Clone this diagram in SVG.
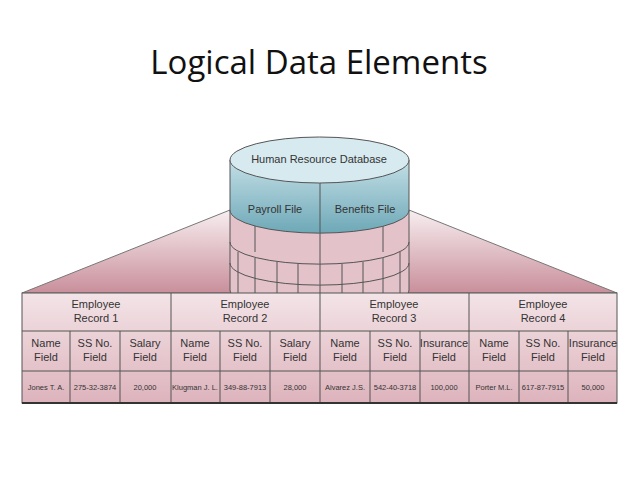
<svg xmlns="http://www.w3.org/2000/svg" width="638" height="478" viewBox="0 0 638 478">
<defs>
<linearGradient id="pk" x1="0" y1="0" x2="0" y2="1"><stop offset="0" stop-color="#f7eef0"/><stop offset="1" stop-color="#c98f9b"/></linearGradient>
<linearGradient id="cell" x1="0" y1="0" x2="0" y2="1"><stop offset="0" stop-color="#f3e4e7"/><stop offset="1" stop-color="#ddb3bc"/></linearGradient>
<linearGradient id="bl" x1="0" y1="0" x2="0" y2="1"><stop offset="0" stop-color="#c3dfe6"/><stop offset="1" stop-color="#6ea8b7"/></linearGradient>
</defs>
<style>
.t{font-family:"Liberation Sans",Arial,sans-serif;fill:#333;text-anchor:middle}
.s{font-size:11px}.d{font-size:7.5px}
.ln{stroke:#555;stroke-width:1;fill:none}
</style>
<rect width="638" height="478" fill="#fff"/>
<text x="319" y="74" font-family="'Open Sans',sans-serif" font-size="33" text-anchor="middle" fill="#111">Logical Data Elements</text>
<g id="fan">
<polygon points="22,293 230,210 409,210 617,293" fill="url(#pk)" stroke="#777"/>
</g>
<g id="database">
<path d="M230,210 L230,290 A89,22 0 0 0 409,290 L409,210 Z" fill="#e3c2c9" stroke="#555"/>
<path d="M230,242 A89,22 0 0 0 409,242 M230,263 A89,22 0 0 0 409,263" class="ln"/>
<g class="ln">
<line x1="255" y1="224" x2="255" y2="252"/><line x1="320" y1="232" x2="320" y2="293"/><line x1="383" y1="224" x2="383" y2="252"/>
<line x1="238" y1="252" x2="238" y2="293"/><line x1="255" y1="258" x2="255" y2="293"/><line x1="277" y1="262" x2="277" y2="293"/><line x1="298" y1="264" x2="298" y2="293"/><line x1="342" y1="264" x2="342" y2="293"/><line x1="363" y1="262" x2="363" y2="293"/><line x1="383" y1="258" x2="383" y2="293"/><line x1="400" y1="252" x2="400" y2="293"/>
</g>
<path d="M230,160 L230,210 A89,23 0 0 0 409,210 L409,160 Z" fill="url(#bl)" stroke="#555"/>
<line x1="320" y1="183" x2="320" y2="233" class="ln"/>
<ellipse cx="319.5" cy="160" rx="89.5" ry="23" fill="#d7eaef" stroke="#555"/>
<text class="t s" x="319" y="163">Human Resource Database</text>
<text class="t s" x="275" y="213">Payroll File</text>
<text class="t s" x="365" y="213">Benefits File</text>
</g>
<g id="table">
<rect x="22" y="293" width="595" height="110" fill="url(#cell)" stroke="#555"/>
<g class="ln">
<line x1="22" y1="331" x2="617" y2="331"/><line x1="22" y1="371" x2="617" y2="371"/>
<line x1="171" y1="293" x2="171" y2="403"/><line x1="320" y1="293" x2="320" y2="403"/><line x1="469" y1="293" x2="469" y2="403"/>
<line x1="70" y1="331" x2="70" y2="403"/><line x1="120" y1="331" x2="120" y2="403"/>
<line x1="220" y1="331" x2="220" y2="403"/><line x1="270" y1="331" x2="270" y2="403"/>
<line x1="370" y1="331" x2="370" y2="403"/><line x1="420" y1="331" x2="420" y2="403"/>
<line x1="519" y1="331" x2="519" y2="403"/><line x1="568" y1="331" x2="568" y2="403"/>
</g>
<line x1="22" y1="403" x2="617" y2="403" stroke="#333" stroke-width="2"/>
<g class="t s">
<text x="96" y="308">Employee</text><text x="96" y="322">Record 1</text>
<text x="245" y="308">Employee</text><text x="245" y="322">Record 2</text>
<text x="394" y="308">Employee</text><text x="394" y="322">Record 3</text>
<text x="543" y="308">Employee</text><text x="543" y="322">Record 4</text>
<text x="46" y="347">Name</text><text x="46" y="361">Field</text>
<text x="95" y="347">SS No.</text><text x="95" y="361">Field</text>
<text x="145" y="347">Salary</text><text x="145" y="361">Field</text>
<text x="195" y="347">Name</text><text x="195" y="361">Field</text>
<text x="245" y="347">SS No.</text><text x="245" y="361">Field</text>
<text x="295" y="347">Salary</text><text x="295" y="361">Field</text>
<text x="345" y="347">Name</text><text x="345" y="361">Field</text>
<text x="395" y="347">SS No.</text><text x="395" y="361">Field</text>
<text x="444" y="347">Insurance</text><text x="444" y="361">Field</text>
<text x="494" y="347">Name</text><text x="494" y="361">Field</text>
<text x="543" y="347">SS No.</text><text x="543" y="361">Field</text>
<text x="593" y="347">Insurance</text><text x="593" y="361">Field</text>
</g>
<g class="t d">
<text x="46" y="390">Jones T. A.</text><text x="95" y="390">275-32-3874</text><text x="145" y="390">20,000</text>
<text x="195" y="390">Klugman J. L.</text><text x="245" y="390">349-88-7913</text><text x="295" y="390">28,000</text>
<text x="345" y="390">Alvarez J.S.</text><text x="395" y="390">542-40-3718</text><text x="444" y="390">100,000</text>
<text x="494" y="390">Porter M.L.</text><text x="543" y="390">617-87-7915</text><text x="593" y="390">50,000</text>
</g>
</g>
</svg>
